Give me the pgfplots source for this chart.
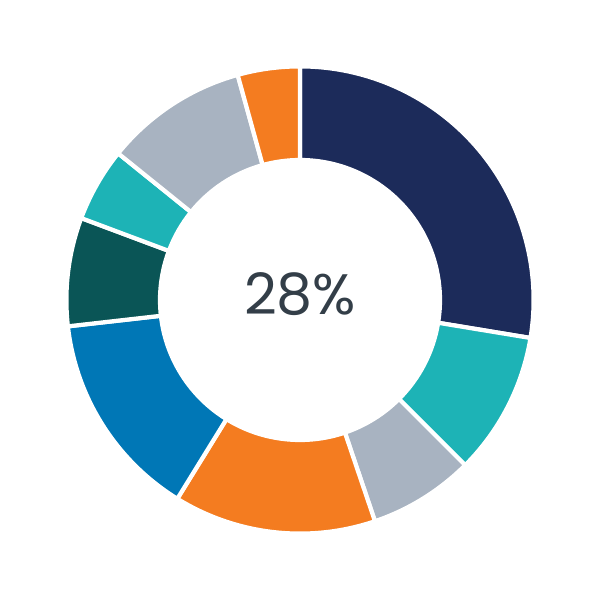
\documentclass[border=0pt]{standalone}
\usepackage{pgfplots}
\pgfplotsset{compat=1.18}
\usepackage{pgfplotstable}
\usepackage{fontspec}
\setmainfont{Poppins}
\definecolor{cNavy}{HTML}{1C2B5A}
\definecolor{cTeal}{HTML}{1DB3B6}
\definecolor{cGray}{HTML}{A8B3C1}
\definecolor{cOrange}{HTML}{F47C20}
\definecolor{cBlue}{HTML}{0077B6}
\definecolor{cDark}{HTML}{0A5556}
\definecolor{cText}{HTML}{333E48}
\pgfplotstableread{
value color
27.6 cNavy
9.9 cTeal
7.3 cGray
14.0 cOrange
14.4 cBlue
7.5 cDark
5.1 cTeal
9.9 cGray
4.3 cOrange
}\donutdata
\begin{document}
\begin{tikzpicture}
\begin{axis}[x=0.5pt,y=0.5pt,xmin=-300,xmax=300,ymin=-300,ymax=300,hide axis,clip=false]
\addplot[draw=none] coordinates {(-300,-300) (300,300)};
\pgfplotsextra{
  \gdef\cum{0}
  \foreach \i in {0,...,8}{
    \pgfplotstablegetelem{\i}{value}\of\donutdata \let\v\pgfplotsretval
    \pgfplotstablegetelem{\i}{color}\of\donutdata \let\c\pgfplotsretval
    \pgfmathsetmacro\a{90-3.6*\cum}
    \pgfmathsetmacro\b{90-3.6*(\cum+\v)}
    \fill[fill=\c, draw=white, line width=2.1pt, line join=miter]
      ([shift={(\a:70pt)}]axis cs:0,0) arc[start angle=\a, end angle=\b, radius=70pt]
      -- ([shift={(\b:116.8pt)}]axis cs:0,0) arc[start angle=\b, end angle=\a, radius=116.8pt] -- cycle;
    \pgfmathsetmacro\newcum{\cum+\v}
    \xdef\cum{\newcum}
  }
}
\node[anchor=base, text=cText, font=\fontsize{28.5}{34}\selectfont] at (axis cs:0,-15) {28\%};
\end{axis}
\end{tikzpicture}
\end{document}
